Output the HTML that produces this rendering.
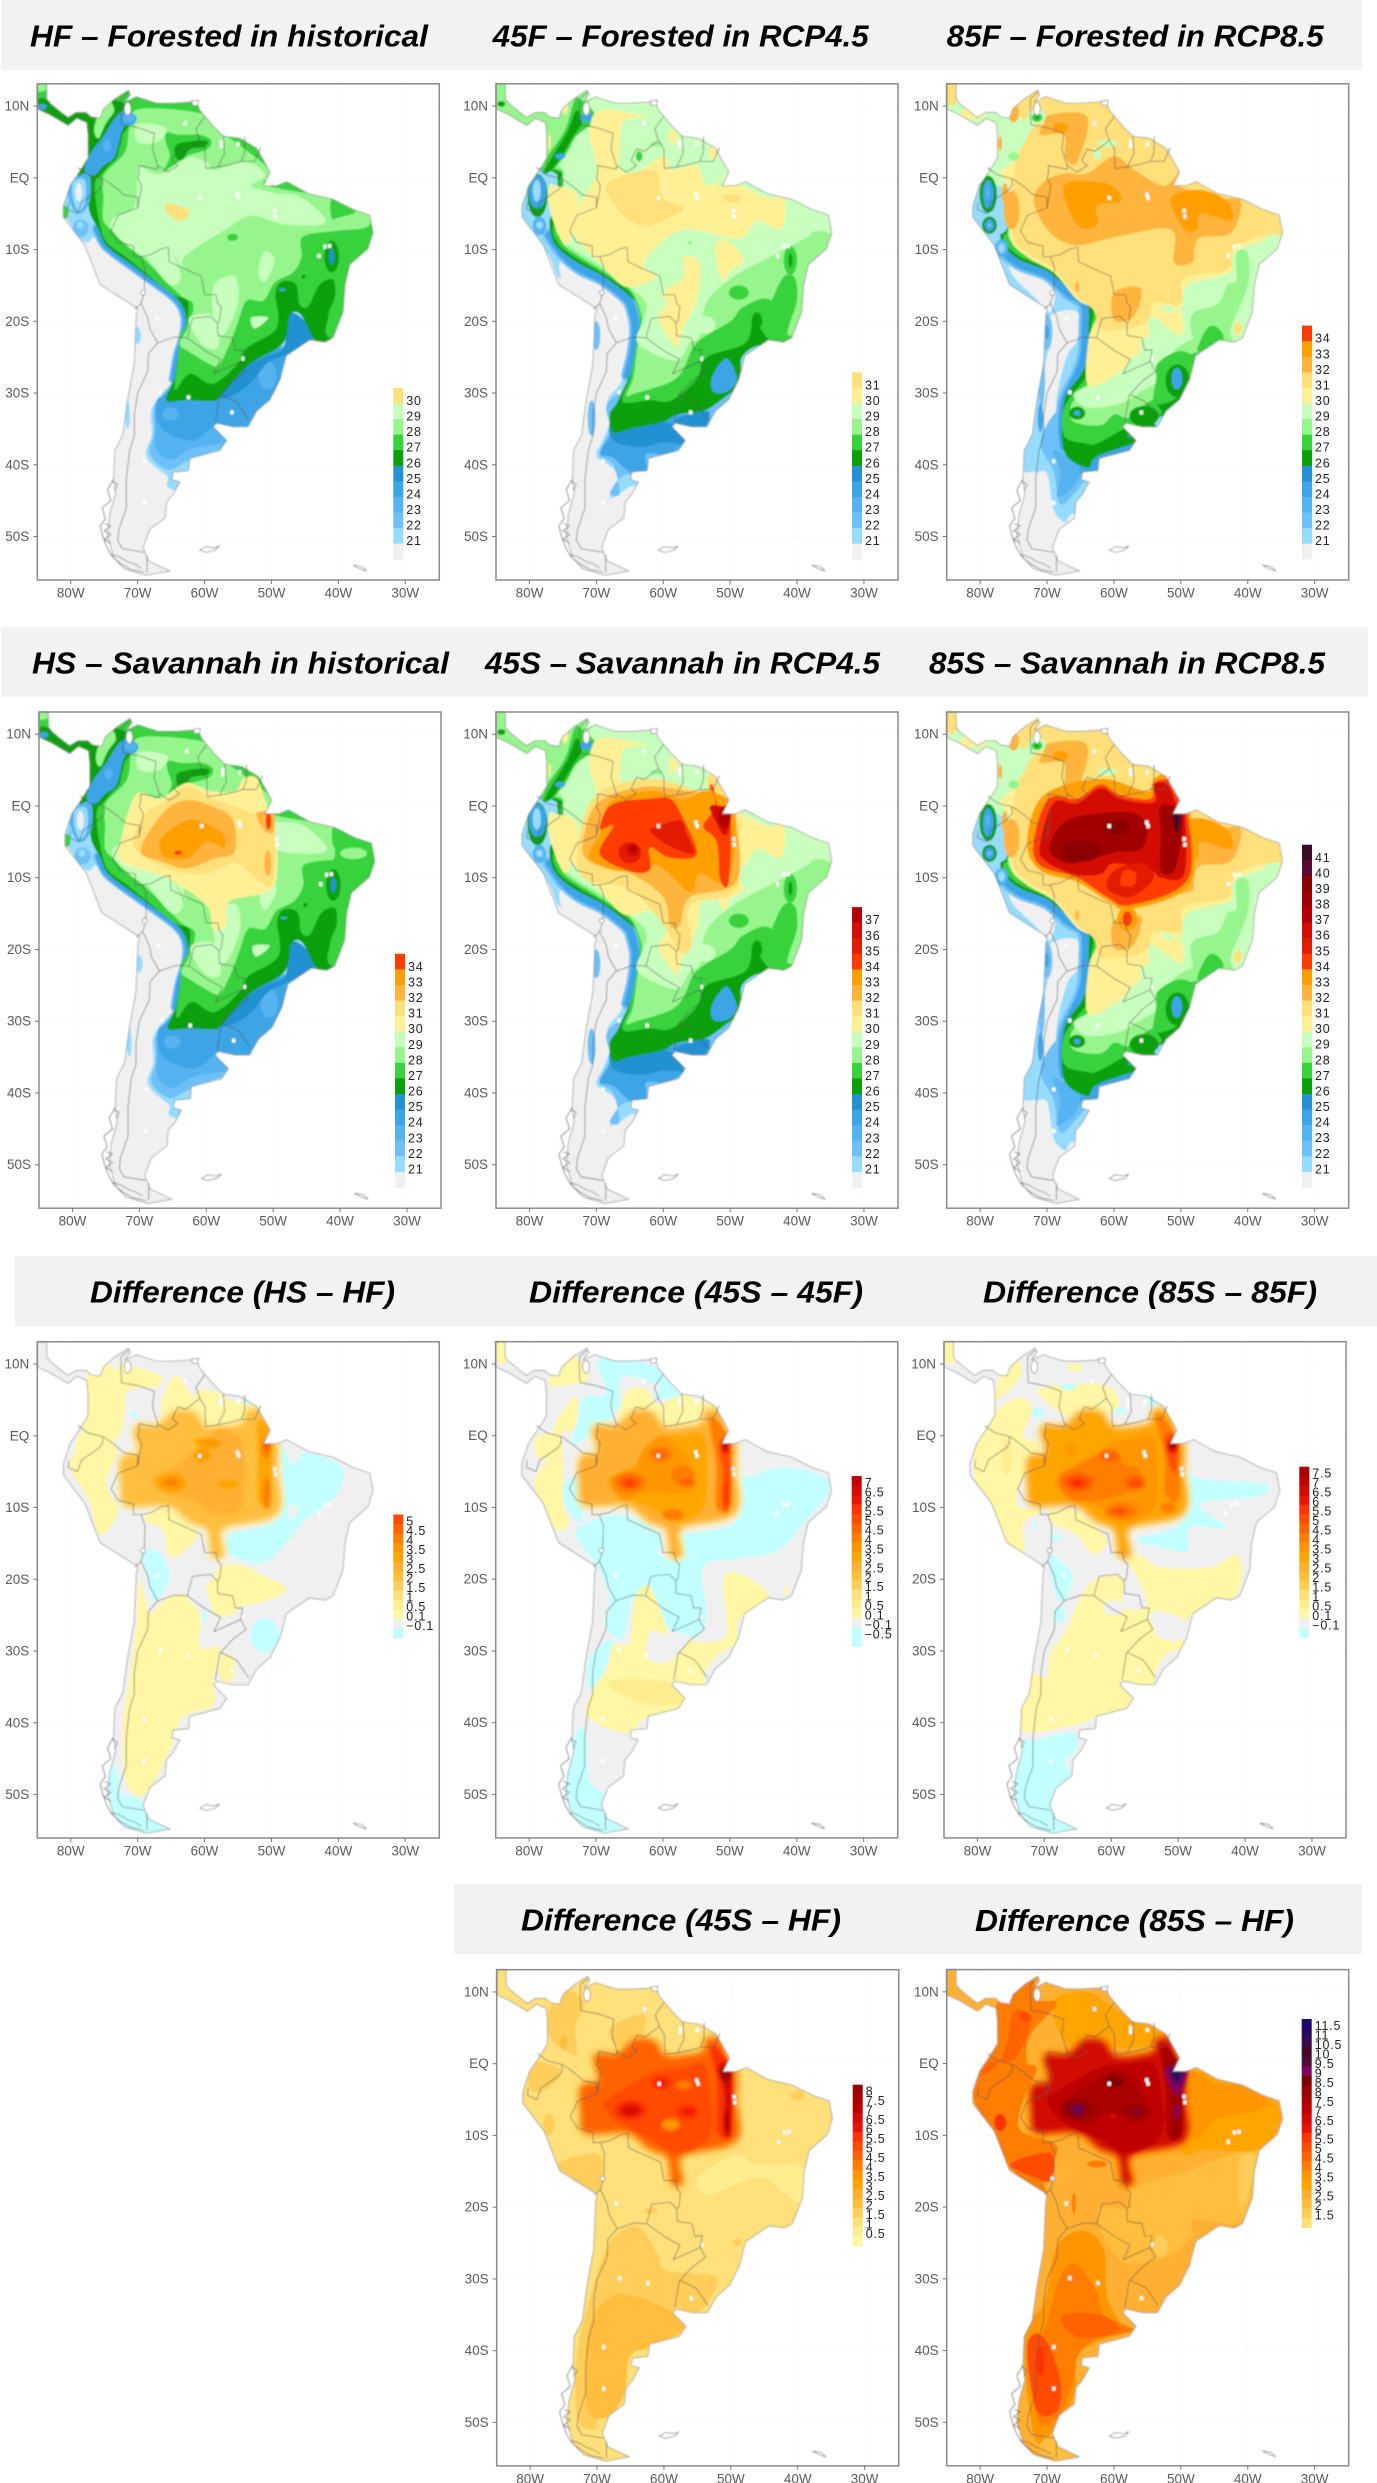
<!DOCTYPE html>
<html lang="en">
<head>
<meta charset="utf-8">
<title>South America surface temperature scenario maps</title>
<style>
html,body{margin:0;padding:0;background:#fff}
svg{display:block}
.tt{font-family:"Liberation Sans",sans-serif;font-weight:700;font-style:italic;font-size:31px;fill:#000}
.ax{font-family:"Liberation Sans",sans-serif;font-size:13.5px;fill:#5a5a5a}
.lg{font-family:"Liberation Sans",sans-serif;font-size:12.5px;fill:#222;letter-spacing:.8px}
</style>
</head>
<body>
<svg id="chart" xmlns="http://www.w3.org/2000/svg" width="1377" height="2483" viewBox="0 0 1377 2483">
<defs>
<filter id="soft" x="-5%" y="-5%" width="110%" height="110%"><feGaussianBlur stdDeviation="0.7"/></filter>
<filter id="softBlock" x="-15%" y="-15%" width="130%" height="130%"><feGaussianBlur stdDeviation="3"/></filter>
<filter id="softHot" x="-15%" y="-15%" width="130%" height="130%"><feGaussianBlur stdDeviation="1.6"/></filter>
<clipPath id="land"><path id="landPath" d=""/></clipPath>
</defs>
<rect x="1" y="0" width="1361" height="70" fill="#f2f2f2"/>
<rect x="1" y="627" width="1367" height="70" fill="#f2f2f2"/>
<rect x="15" y="1256" width="1362" height="71" fill="#f2f2f2"/>
<rect x="454" y="1884" width="908" height="70" fill="#f2f2f2"/>
<g id="panels"></g>
</svg>
<script>
// ---- axis ticks (lon degrees west, lat degrees signed) ----
const lonTicks=[80,70,60,50,40,30];
const lonLabels=['80W','70W','60W','50W','40W','30W'];
const latTicks=[10,0,-10,-20,-30,-40,-50];
const latLabels=['10N','EQ','10S','20S','30S','40S','50S'];
// ---- colour scales ----
const tempBins=[20,21,22,23,24,25,26,27,28,29,30,31,32,33,34,35,36,37,38,39,40,41];
const tempCols=['#f0f0f0','#96dcff','#6ec0f8','#55b4f0','#3ca5e6','#2391d2','#0aa00a','#37d23c','#96f58c','#c8ffbe','#fff096','#ffe07a','#ffb43c','#ffa000','#ff3c00','#e11e00','#d20f00','#b40000','#a00000','#8c0000','#5a0a32','#3c0a23'];
const diffBins=[-0.5,-0.1,0.1,0.5,1,1.5,2,2.5,3,3.5,4,4.5,5,5.5,6,6.5,7,7.5,8,8.5,9,9.5,10,10.5,11,11.5];
const diffCols=['#c3ffff','#f0f0f0','#fff6a6','#ffed90','#ffe07a','#ffcd5a','#ffbe3c','#ffb030','#ffa500','#ff9600','#ff7d00','#ff6400','#ff4b00','#ff3200','#e61400','#d20a00','#be0000','#aa0000','#960000','#7d0000','#800060','#500a3c','#460a28','#3c0a50','#28085a','#1e0a6e'];
// ---- geography ----
const coast=[85,13.1,83.6,13.1,83.6,11,83,10.3,81.3,9,80.4,8.4,79.2,9.1,77.7,9.1,77,8.5,75.6,8.3,75.1,9.6,73.4,11,71.4,12.2,71.1,11.6,71.9,10.6,71.3,10.8,70.2,11.3,67.2,10.4,64.7,10.4,61.2,10.6,60.7,9.4,58.7,7.2,57.2,5.8,54.7,5.5,52.2,4.1,50.2,0.8,51.2,-1.1,49.2,-1.1,47.7,-0.55,44.5,-2.2,40.8,-3,37.8,-4.4,35.3,-5.2,34.8,-7.7,35.6,-9.9,38.3,-12.1,39,-14.9,39.3,-18.7,40.8,-22.3,42,-22.9,44.3,-22.6,47.8,-24.8,48.7,-28.1,50.2,-30.9,52.2,-32.5,53.5,-34.7,55.7,-34.7,58.2,-34.2,58.7,-34.7,56.7,-36.6,57.7,-38,62.2,-39.1,62.4,-40.8,64.7,-41,64.9,-42.1,63.7,-42.4,64.7,-44.1,65.7,-45.2,65.9,-47.4,68.2,-49,69.2,-51.5,68.4,-53.4,65.2,-54.8,68.7,-55.4,72,-54.5,73.5,-53,74.5,-50,74.2,-47,73.3,-44,73.6,-42.1,73.4,-38,72.2,-35.8,71.5,-31,70.5,-25.9,70.2,-19.3,70,-18.2,75.6,-14.9,77.9,-9.4,81.1,-5.5,81.1,-3.9,80.1,-1.1,78.9,0.55,77.4,2.75,77.4,6,77.6,7.7,79.1,8.3,80.4,7.3,83.1,8.8,85,9.6];
const borders=[
[51.6,4.2,52.5,2.3,54.5,2.3,56,1.9,58,1.5,59.8,1.3,59.9,2.4,59.9,4,60.7,5.2,62.8,3.7,64,4,64.8,2.4,64,1.7,65.5,0.8,67,1.7,67,1.2,69.8,1.7,69.8,0.7,70,-0.1,69.4,-1.1,70,-4.2,72.9,-5.2,74,-7.4,72.9,-9,70.6,-9.5,70.6,-11,69.5,-11,68,-10.7,66.5,-9.9,65.4,-9.7,65.3,-11.7,63,-12.7,60.5,-13.7,60,-16.3,58.3,-16.3,58,-17.5,57.5,-18,57.8,-20,58.1,-20.2,58,-22,55.8,-22.3,55.4,-24,54.3,-24,54.6,-25.6,53.8,-27,55.7,-28.3,57.6,-30.2,56,-30.9,55.2,-31.3,53.4,-33.7],
[78.9,1.4,77.4,0.4,75.3,-0.1,75.2,-0.9,75.6,-1.6,78.4,-3.4,79,-5,80.4,-4.4,80.3,-3.4],
[75.2,-0.1,73.5,-1.2,72,-2.4,70,-2.7,70,-4.2],
[71.3,12,72.5,11,72.5,9,72.4,7.4,70,7,67.5,6.2,67.8,4,67,1.7],
[60.7,5.2,61.3,6.8,60,8.5],
[58,1.5,57,3.4,57.2,5.9],
[54.5,2.3,54,3.6,54,5.7],
[69.5,-11,68.9,-12.5,69,-16,69.5,-17.5,70.4,-18.3],
[69.5,-17.5,68.5,-19.5,68.2,-21,67,-23,68.4,-24.5,68.5,-27,70,-30,70.5,-33,70.5,-36,71.2,-38,71.7,-42,71.7,-46,72.8,-49,73,-50.5,72.3,-51.7,69,-52.2],
[68.6,-52.6,68.6,-55],
[67,-23,64.5,-22.2,62.6,-22.3,59.9,-24.1,57.6,-25.3,58.6,-27.3,54.6,-25.6],
[62.6,-22.3,61.8,-19.6,59.1,-19.3,58.1,-20.2],
[58.4,-34,58.2,-33,57.7,-30.2]];
const fjordLines=[[73.6,-42,74.5,-43.5,74,-45,75.3,-46,74.8,-47.5,75.6,-48.5,75.2,-50,74.6,-51.5,73.8,-52.8,72.5,-53.8,71,-54.6,69,-55],[74.9,-48.2,74,-48.5,75,-49.2,74,-49.7,75,-50.4,74,-50.9],[74,-52.5,72.8,-52.8,71.5,-53.5,70.5,-53.8,69.5,-54.4],[73.8,-42.3,73,-42.7,73.4,-43.6]];
const islands=[[60.7,-51.9,59.8,-51.4,58.5,-51.6,57.8,-51.3,58.4,-51.9,59.8,-52.2],[37.8,-54,36.5,-54.2,35.8,-54.8,36.8,-54.5],[61.9,10.7,60.9,10.8,61,10.1,61.8,10.1]];
const lakes=[[71.5,9.6,0.5,0.9],[69.2,-16,0.35,0.35]];
const missingCells=[60.7,-2.8,55.1,-2.3,54.9,-2.8,49.5,-4.6,49.4,-5.4,62.9,7.6,57.5,4.4,57.5,5,55,4.7,42,-9.6,41.3,-9.5,42.9,-10.9,55.9,-32.7,62.4,-30.6,66.6,-29.9,54.3,-25.2,69,-39.5,69,-45.3,67.1,-19.5];
// ---- filled contour regions: [bin, flat lonW,lat] polygon | [bin, flat, widthDeg] line | [bin, lonW,lat,rx,ry] ellipse ----
const beltHF=[76,-7.1,74.7,-9.4,71.7,-11.6,68.7,-13.6,64.2,-16.8,62.8,-19.3,63,-22,63.9,-24.8,64.5,-28];
const hfLayers=[
[21,[86,14,30,14,30,-46,62,-44,65.7,-41.5,68.7,-38.8,67.9,-35.8,68,-32.5,66.7,-30.3,64.9,-28.4,63.9,-24.8,63.3,-22,63.1,-19.3,64.2,-17.1,68.7,-13.9,71.7,-12.2,74.9,-10.2,76.4,-8.3,77.4,-9,78.6,-8.5,80,-6.6,82,-3,82,3,86,9]],
[22,[45,-36,57,-37.7,62.5,-39.5,65.5,-40.7,68.2,-38.5,67.5,-35.5,67.6,-32.5,66.3,-30.3,60,-25,45,-25]],
[23,[45,-36,57,-37,62,-37.8,65,-39.3,67.3,-37.7,67.2,-33,66,-30.4,60,-26,45,-24]],
[24,[45,-32,52,-33,54,-34.7,58.2,-34.6,61.7,-36.6,65.7,-35.5,67.2,-33.6,67.2,-31.4,66.2,-30.3,60,-26,45,-24]],
[23,65.1,-32.9,1.2,0.9],[23,50.6,-27.5,1.3,2],
[25,[57.7,-30.5,53.7,-26.4,50.7,-24.8,48.2,-23.7,47.5,-19.3,45.8,-19.3,43.5,-22,44.8,-23,48,-24.7,50.7,-25.9,53.2,-28.7,55.7,-30.3]],
[22,beltHF,1.7],[24,beltHF,1.1],
[26,[30,-23,42,-23,43.5,-22.7,45.7,-19,47.3,-19.3,48.3,-23.1,53.4,-26.1,57.7,-30.5,58.7,-31.1,62.7,-31,65.7,-31.1,65,-29,64.5,-28,63.9,-24.8,63,-22,62.8,-19.3,64.2,-16.8,68.7,-13.6,71.7,-11.6,74.7,-9.4,75.9,-7.1,77.1,-5,77.5,-2.7,77.9,0.55,85,4,86,9,86,14,30,14]],
[27,[30,14,30,-23,40.8,-22.5,41.5,-19.3,40.5,-16.5,40.8,-14.2,42.8,-14.9,44.5,-17.9,45.8,-17.6,46.3,-14.9,48.2,-14.4,49.4,-16,49.2,-20.9,53.7,-23.7,54.7,-25.6,58.7,-28.7,62.2,-27.3,64.4,-29.5,63.9,-24.8,63.7,-22,62.7,-20.4,62.5,-17.1,64.7,-16.3,68.9,-13.2,71.7,-11.1,74.6,-9,75.6,-6.6,76.3,-2.8,76.1,0,73.4,2.75,72.2,6.6,73.1,10.5,86,14]],
[28,[35,-5,35.8,-6.9,40.3,-7.4,45.3,-8.2,45.5,-11,46.8,-13.2,49.5,-14.6,51.2,-17.1,53.7,-17.1,55,-20.1,56.2,-23.1,57.7,-25.9,58.7,-26.2,62.4,-24.2,63.7,-23.1,62.4,-20.7,61.7,-17.6,63.7,-16.3,68.7,-11.6,71.4,-9.6,73.4,-7.7,75.1,-6,75.1,-2.8,75.1,0.3,71.9,3.6,71.2,7.2,69.7,9.6,60.7,9,58.2,6.9,50.2,1.1,50.8,-1,40.8,-2.8,35.8,-4.4]],
[27,[41,-3,38.5,-3.8,37.5,-4.8,39.8,-5.5,41,-5.6]],
[27,[65.7,6.3,63.7,6,60.7,6,59,5.2,59.7,3.9,62.7,3,64.2,1.4,66.2,0.55,65.2,3,65.8,5]],
[26,[64.4,4.4,62.7,5,59.7,5.2,60,4.3,62.2,4,63.2,2.5,64.2,2.75]],
[29,[69.2,1.4,66.7,0.55,62.7,2.75,59.7,2.2,58.7,1.1,53.7,2.2,50.9,0.3,53,-1.1,49.2,-2.2,46,-2.5,42.5,-5,42.5,-6.5,48,-6.5,53,-5.3,56.5,-7,63,-11,63,-13,65.5,-10,69,-11,73.5,-7.7,73.7,-5.7,70.5,-4,70,1.4]],
[29,[70,7.5,65.8,7,67,5,70,5]],
[29,[58.5,-14.8,55.5,-13.8,55,-17.5,57.3,-22,58.7,-19]],
[29,[62,-19.3,58.5,-19.3,57.9,-23.5,60,-23.5,62,-21]],
[29,[51,-10.3,49.5,-11.5,51,-14.5,52,-13]],[29,[53,-19.5,50.5,-19.5,52.5,-21]],
[29,[68.7,-10.5,65.8,-9.5,63.5,-13.5,65,-15,67.5,-12.5]],
[31,[65.7,-3.6,63.3,-4.1,62.2,-4.7,63.4,-6,65.5,-5]],
[27,55.8,-8.3,0.8,0.5],[26,45.2,-13.8,0.3,0.3],[26,41,-11,1.1,2.2],[25,41,-11,0.4,1.1],[24,48.4,-15.6,0.5,0.2],
[28,[76.5,7,75.5,9.5,74,10.5,73.5,9,74.3,7.5,75.9,5.5]],
[26,[74,11,71.5,10,70.9,8,71.5,7,72.5,5.5,73,3,74.5,1.5,76,0,77.9,-0.5,79,0.5,77.6,3,76,5,74.8,7.5,73.3,9.6]],
[24,[71.9,9.4,70.2,8.5,70.7,7.4,72.2,6.9,73.4,3,75.1,1.7,76.6,0.3,77.9,1.1,76.9,3.6,75.1,5.8,73.4,8.3]],
[23,71.3,8.3,0.9,0.6],[23,74.6,4.5,0.6,0.8],
[27,80.8,-4.8,0.5,0.9],
[23,[80.4,-1.1,78.1,0.55,77.1,0,77.2,-3.3,78.6,-5,79.9,-3.9]],
[21,[79.6,-0.6,77.9,-0.3,77.8,-3.2,78.8,-4.6,79.7,-2.9]],[20,78.8,-2,0.5,1.3],
[22,78.5,-7,1.2,1.2],[21,78.6,-6.6,0.5,0.5],
[27,84.5,11.6,1,1.7],[26,84.3,10.6,0.8,0.5],[24,84.3,9.9,0.7,0.4],[28,84.5,12.6,0.9,0.6],
[20,[75.6,-11.5,72.5,-13,69.7,-14.6,70.4,-18.2,73,-16.3,74.9,-14.9]],
[21,70,-22,0.5,1.2],[21,71.5,-33,0.35,2]
];
const hsExtra=[
[27,[41,-3,38,-4.5,35,-5,35,-9,38.5,-12,44,-12,45.5,-8.3,41,-7.5]],[28,38,-6.6,2,0.8],[26,41,-11,1.1,2.2],[25,41,-11,0.4,1.1],
[30,[72.8,-5,70.5,1.6,67,1,63,3.2,59.7,2.1,55.7,2.1,54.4,3.8,52.4,3.8,51,0,50,-1.7,49.8,-11,56.5,-13.3,57,-16.6,59,-17.1,60,-13.8,66,-10,72.6,-7.8]],
[31,[71,-5.4,69,-1,66.5,0.4,63,2.7,59,1,55.7,-0.1,53,-1,49.9,-1.5,50,-10.5,52,-10.5,55.5,-8,59.7,-9.4,62.9,-9.4,67,-8.3]],
[32,[69.8,-6.2,66.5,-1,63,0.8,58.7,-0.2,56,-2,55.8,-6.4,59,-7.4,62.9,-8.7,66.5,-7.8]],
[33,[67,-5.6,66.5,-4.2,63,-2,60.5,-2.3,57.5,-3.9,57.3,-5.8,60,-5,62.5,-7.2,66,-7.2]],
[32,[52.5,-1,50,-1,49.9,-3.5,51.2,-3.5]],[32,50.8,-8,0.5,1.8],
[34,64.2,-6.5,0.6,0.3],[34,50.7,-2,0.4,1.3]
];
const beltF45=[77,-8,75,-10.6,72.5,-12.6,69,-14.2,65.5,-16.8,64.6,-18.5,64.1,-21,64.5,-24.5,65.3,-27.5];
const f45Layers=[
[21,[86,14,30,14,30,-46,60,-46,64,-43,66.5,-44,68,-44.6,66.8,-42.5,67.5,-40.5,70,-38.8,69,-36.5,68,-34,68.3,-31,66.2,-28.3,64.8,-24,64.4,-21,64.4,-18,65.5,-17,69,-14.5,72.5,-13,75.5,-14,77,-11,80,-7,81.5,-4,81,1,86,9]],
[20,[75.4,-11.8,72.5,-12.7,69.7,-14.6,70.4,-18.2,73,-16.3,74.9,-14.9]],
[22,[45,-36,56,-37.5,62,-39.5,63,-41.3,66,-41.5,68,-44,66.5,-44,67.5,-40,69.5,-38.5,68,-35,68,-31,60,-28,45,-28]],
[24,[56,-36,59,-38.5,62.5,-38.5,62.5,-40.7,65,-41,67.5,-39,69.5,-38.5,68,-36,67.5,-35,60,-33,53,-33.5,53.5,-34.8,55,-35]],
[25,[58.5,-34.4,57,-36.9,60,-36.9,63.5,-37.5,67.5,-36.6,67.7,-33.6,64,-33.6]],
[25,[58,-33.6,53.3,-32.5,54,-34.7,57,-34.7]],
[22,beltF45,2],[24,beltF45,1.2],
[22,70.7,-33.5,0.6,2.5],[22,70,-22,0.6,2],
[26,[30,14,30,-24,43,-23,48,-24.7,48.5,-28.5,51,-30.7,54,-32.5,58,-33,60,-34,65,-35,67.5,-35.5,68,-33,67,-31.5,66,-29.5,65,-27.5,64,-24.5,63.3,-21,63.2,-18.5,65,-16.5,69,-13.7,72.5,-12,75,-10.4,76.5,-8.7,77,-6,76,-4,75.8,-0.5,77,1,86,3,86,14]],
[24,[51.5,-25.9,50.3,-25.3,49,-28.1,50.5,-29.8,52.5,-29.8,52.8,-28]],
[25,[58,-33.6,53.3,-32.5,54,-34.7,57,-34.7]],
[27,[30,14,30,-23,42,-23,44,-22.5,45,-19.5,46.5,-19,47.7,-23,53.5,-25,55,-28,58.7,-31,62,-31,66,-31.2,65,-28,64.3,-24.7,63.6,-21,63.7,-18.7,65,-16,69,-13.4,72.5,-11.5,75,-9.9,76,-8.7,76.5,-7,75.5,-4,75.5,-0.5,76,1,86,3,86,14]],
[24,[51.5,-25.9,50.3,-25.3,49,-28.1,50.5,-29.8,52.5,-29.8,52.8,-28]],
[28,[30,14,30,-22,41,-22,44,-17,48,-18,50,-20,55,-23,57,-26.7,59,-28.5,64,-30,65.5,-30.3,64.5,-28,64,-24.5,63.4,-21,63.3,-19,65,-15.5,69,-13,72.5,-11,74.5,-9.7,75.5,-8.2,76,-7,75,-2,75,0,76,1.3,86,3,86,14]],
[27,[44,-17.5,42,-13.8,40.3,-14,40,-17,41,-20,42,-22.7,44,-22.7,46,-20,45,-19]],
[29,[30,14,30,-6.6,37,-7.4,38.5,-8.3,44,-11,49.5,-13.8,53.5,-17.3,54.5,-22,56,-23,58,-25.5,62.5,-24,64,-22.5,63,-20,62.5,-17.7,64,-16,69,-12.5,72.5,-10.5,74.5,-9,75.5,-7,75,-2,75,1,76,3,73,8,71.5,10,70,12,69,14]],
[29,53.7,-20.5,1.5,1.2],[27,48.7,-16,1.5,1],[27,41,-11.5,1,2],[26,41,-11.5,0.3,1],[26,46,-20,0.8,1],
[27,[78,0.6,77.4,2.8,74.7,6.6,73.4,10.5,72.5,11,70,8.3,73,5.8,74.5,3.3,76.5,1.1]],
[26,[77.8,0.8,76.9,2.5,74.4,6.3,73,9.4,72.2,7.7,73.4,5.8,75,3.3,76.7,1.1]],
[24,71.4,8.4,1,0.6],[24,75.4,3,0.8,0.4],
[30,[69.5,9.4,62.7,8.5,66,7.7,66.5,2.8,66.8,1.6,64.5,0.55,60,3,58.7,1.1,55,1.7,53.5,-1.1,50.5,0.55,52,-1.1,48.5,-1.1,44.5,-2.8,42,-2.8,42,-6.6,43,-7.2,46,-6,48,-8.3,50.5,-8.3,57,-7.2,62,-10.5,62.7,-12.7,61,-13.8,65.5,-15.2,69.5,-11.8,73.5,-7.7,73,-4.4,70,0.5,71,6]],
[31,[68,-0.55,61.5,1.1,60,-2.8,57,-4.4,62,-6.6,65,-6,68,-2.8]],[31,49.7,-2.8,1.5,0.6],
[30,[77,-1.1,76,-1.1,73,-2.2,73.2,-6,74.7,-9.4,77,-4.4]],
[30,[57,-11,54.5,-12,55,-17,57,-20.9,58,-23.5,60.7,-19.8,59.5,-17.5,60,-16,57,-13.8]],
[30,[52,-9,50,-9,48,-11.5,50,-13,51,-14.5,52,-12]],
[30,74.7,9.9,0.5,1.1],[30,77,5,0.2,1],[30,58.5,5.7,0.7,1],[30,52.5,3.7,0.7,1.2],
[28,61,4.7,1,0.3],[27,63.6,3,0.5,0.7],[28,56,-9,0.3,0.3],
[26,78.8,-2.5,1.5,3],[24,78.8,-2,1.3,2.3],[21,78.9,-1.8,0.6,1.5],
[23,78.5,-6.7,1,1.3],[21,78.5,-6.6,0.5,0.5],
[28,84.3,11.5,1.2,2],[26,84.2,10.3,0.6,0.4]
];
const s45Extra=[
[31,[72.7,-5,70,1.6,62,3.8,54,2.1,53.5,4,51.3,3.8,50,0,49,-1.2,49,-11.6,56,-13.8,55.7,-19.3,57.5,-20.4,60,-16.6,65,-11.6,72,-10]],
[32,[72,-5,69.7,0.5,62.5,2.7,54,1.8,53,3,50.8,0,49.3,-1,49,-10.5,56,-12.7,57.5,-16.6,59,-16.6,60,-12.7,65,-9.4,71,-7.8]],
[33,[69.5,-3.9,68,0.5,62,2.1,57,1,53.5,2.1,49.3,-0.6,50.3,-10.5,54.5,-9.4,56,-12,61,-8.3,66.5,-9.1,71,-7.2]],
[34,[67.7,0.2,62,1,59,1,57.3,-1.2,55,-6.7,59,-7.2,62,-5.8,62,-8.9,65,-9.1,69.5,-6.7,67.5,-2.8,69.5,-3.2]],
[35,[60.7,-2.8,57.5,-2,56.5,-3.9,55.5,-6.6,59,-5.6,62,-3.5]],
[35,65,-6.5,1.7,1.5],[36,64.6,-6.2,1,0.9],[37,64.5,-6,0.5,0.5],
[34,[53,2.7,52,0,54,-2.8,52,-5,51.5,-10.2,50.2,-10.5,50,-0.6,52,-0.2,52.5,2.7]],
[36,[53,0,50,-0.6,50.3,-3.5,51,-4,52,-2.5]],[37,50.9,-1.5,0.9,1.5]
];
const beltF85=[76.3,-10.5,74,-12.1,70,-13.5,67,-16,64.5,-17.6,64.3,-20.9,64.5,-24.8,65.5,-27.5,67.3,-30.9,67.8,-34.7,67.5,-37.5];
const f85Layers=[
[21,[86,14,30,14,30,-40,60,-46,66,-46.8,67.3,-48,69,-46.3,70,-41.3,71.7,-41,74,-40,76,-30,76,-14,81,-8,82,-3,82,3,86,9]],
[20,[69.5,-19.2,65.5,-18.7,65.5,-22.6,67,-24.8,68.5,-30.3,68.8,-35.8,70,-36.9,70.5,-34.7,70.5,-27.5,69.5,-22.6]],
[20,[75.5,-12.1,72.5,-13.2,69,-14.9,69.5,-18.7,72,-16.5,75,-13.8]],
[22,[71,-37,69,-41,68,-45.5,65.5,-43.5,64,-41,67,-38,67,-33,69,-33]],
[22,70.8,-28,0.5,4],[24,71,-33.5,0.4,2],[22,70,-21.5,0.8,2.5],[24,70,-21.5,0.3,1],
[23,[69,-38,65,-40,66,-43,68.5,-44.5,68,-41]],
[24,[56.5,-35.5,55.5,-37,59,-38.8,62.5,-41,65,-41.2,64,-39]],
[22,beltF85,2],[24,beltF85,1.1],
[26,[30,14,30,-30,52,-33,53.5,-35.5,58,-36,56,-36.6,62.5,-38.8,64,-40.4,67.5,-38,67.4,-31,65,-27.5,63.9,-24.8,63.8,-20.9,64,-17.4,66.7,-15.5,70,-13,74,-11.5,76.3,-9.7,77,-8,76,-7,75.7,-3,76.4,0,86,3,86,14]],
[27,[30,14,30,-28,52,-30,53,-33,57,-34.5,58.5,-35,62.5,-37,64.3,-37,67.4,-36,67.4,-32,64,-27.5,63.5,-25,63.4,-21,63.2,-18,66,-15.3,70,-12.7,74,-11,76,-9.4,76.5,-8,75.3,-7,75.3,0,86,3,86,14]],
[28,[30,14,30,-24,44,-24,50,-25,52,-27,53,-30,57,-32.5,58,-33.5,60,-33,62,-34.5,66,-34,66.5,-32,65.5,-30.5,63,-28,63,-25,62.5,-21,62,-18,66,-14.5,70,-12,74,-10.2,75.5,-8.7,75.8,-7,74,-2,75,0,86,3,86,14]],
[29,[30,14,30,-22,46,-22,52,-25,53,-28,56,-29.8,58,-31,60,-31.7,64,-32,66,-30.2,63,-28,62.6,-23,62,-18,65,-14.5,70,-11.5,74,-9.7,75.5,-8,75,-2.5,85,3,86,14]],
[30,[30,14,30,-10,37,-8.8,42,-10.5,42.7,-13.2,49,-14.9,50,-18.2,53,-17.6,52,-18.7,50,-18.7,50,-22,54.5,-19.3,54.7,-22,56,-22.6,56,-24.2,57.5,-25.3,59,-27,63.8,-29,63.8,-22.6,62.5,-18.7,65.5,-17,69,-13.2,73,-11,75.5,-8.3,75.5,-1.7,77,0.6,74.8,2.8,72.8,6.6,75.5,10.5,78,10,86,14]],
[31,[30,14,30,-9,37,-8,42,-9.8,43,-12.8,49.5,-14,50,-17.5,54,-17.5,55,-20,58,-21,62,-21,63,-18.5,65.5,-16.5,69,-12.7,73,-10.5,75.2,-8,75.2,-2,74.5,2.8,72.8,6.6,75.5,10.5,74,14]],
[32,[72,-3.3,70.5,-0.6,67.5,0.6,64,0.6,60,3,57,1.1,52.5,-1.1,50,1.1,50.5,-1,44,-2.8,41,-3.3,42.5,-7.7,47,-8.3,48,-10,48.3,-11.8,51,-11.8,51.5,-7.2,60,-8.3,65.5,-9.4,69.5,-7.7]],
[33,[67.5,-1.1,62,-0.6,59.5,-1.7,59,-3.3,62.5,-3.9,62.5,-6.6,65.5,-6.6]],
[33,[51.5,-2.8,47,-1.7,43,-3.3,42.5,-6,47,-5,47.5,-7.2,49.5,-7.2]],
[32,[69.5,8.8,64,8.5,65.5,2.2,67.3,2.8,67.5,6,71,6,70.5,7.5]],[33,68,7,1.2,0.7],
[32,75,9,0.8,1.3],[32,77,4.8,0.3,1],[32,75.3,-4.5,1.2,2.7],[32,76.3,-2.2,0.5,1.5],
[32,[60,-16,56,-15.4,57,-19.3,60,-19.8]],[32,65.5,-15.2,0.3,0.7],
[29,61,4.8,1.5,0.5],[29,62.5,3.3,0.6,0.8],
[29,[77.5,1.5,75.5,2,72.5,6.5,71.5,8,73,8.3,75.5,5,77,3]],[28,75,3,0.8,0.6],
[29,71.5,8.6,1.3,1],[27,71.5,8.4,0.8,0.6],[26,71.5,8.4,0.3,0.2],
[29,36,-8.5,1.5,0.6],
[28,[48.5,-20.9,48,-18.7,44.5,-17.6,43,-14.9,41.7,-14.3,41.7,-10.5,40,-10.5,40,-14.9,42.5,-20.9,42.5,-23,47,-24.2]],
[27,[47.5,-23.7,46,-20.9,44.5,-20.9,43.7,-22.6,47,-24.2]],
[27,[53.5,-25.9,50.5,-24.2,48.3,-25,48.5,-28.6,51,-30.9,54,-31.4,53.7,-28.1]],
[26,50.5,-28.3,1.8,2.3],[24,50.6,-28,0.8,1.5],[31,41.5,-21,0.6,0.9],
[26,65.5,-32.8,1.2,0.9],[24,65.5,-32.8,0.5,0.4],[26,55.5,-33.2,2.2,1.4],
[26,78.8,-2.3,1.3,2.6],[24,78.8,-2.3,0.8,2],[23,78.9,-2,0.3,0.9],
[26,78.6,-6.6,1.1,1.2],[24,78.6,-6.6,0.7,0.8],[22,78.6,-6.6,0.3,0.3],
[23,76.8,-9.8,1,1.2],[21,76.8,-9.8,0.5,0.7],
[31,84.3,12,1.2,2],[29,84.5,9.5,1,0.6],[30,81,9,2,0.8]
];
const s85Extra=[
[33,[73,-5,70.5,1.5,62,3.8,55,2,54,3.8,51.5,4.4,49.6,0.3,48.6,-0.6,48.6,-10.8,57.5,-14.4,61,-13.2,65.5,-10.6,71,-9]],
[34,[72,-5,69.8,1,65.5,1,62,3,59,1.5,54.5,1,54,3.2,51.5,3.5,50,0,49,-0.8,49,-10.3,57.5,-13.8,61,-12.7,65.5,-10,71,-8.3]],
[36,[71,-5,69,0.5,65.5,0.4,62,2.5,59,1,54,0.5,54,3,52,3,50.5,0,49.4,-1,49.5,-9.5,53,-10,54.5,-9,60,-8,62,-9.5,66,-9.5,70.5,-7.5]],
[35,[60,-9,56,-8,54,-10,57.5,-12.7,61,-11.5]],[34,[58.5,-9,56.8,-9.3,57,-11,59,-11]],
[38,[69.5,-5,67,-2,62,-1,57,-1,55,-3,56,-6,60,-6.5,66,-8,69,-7]],
[39,65,-6.3,3,1.5],[39,59.5,-3,2,1],
[38,[53,0,50,-0.8,50,-5,51,-9,53,-9,53,-4]],
[40,50.6,-1.5,0.8,0.7],[41,50.6,-2.5,0.4,1.2],
[33,58,-15.7,1.5,1.7],[34,58,-15.7,0.7,1]
];
const block=[70.2,1,66.9,1.2,64.4,3.2,61.6,3,59.6,0.9,54.2,1.5,53.6,3.2,51.6,3.2,50.7,0.2,49.4,-0.8,49.4,-5,49.5,-10.7,57.4,-12.7,57.4,-16.4,58.7,-16.4,59.3,-13,62.2,-11.7,65.4,-9.5,71.5,-9.5,72.2,-7.3,72.2,-3.3,69.6,-2.5];
const blockWidths=[1.4,1.15,0.9,0.65,0.4,0.2];
const d1Base=[
[0.1,[77.1,9.5,75.1,10.3,72.9,9,72.6,10,66.7,8.4,67.2,6.8,71.4,6.3,71.9,3,72.9,-0.2,75.1,-0.8,78.6,1.4,77.7,7.1]],
[0.1,[78.6,0.3,75.4,-0.2,73.1,-1.8,74.6,-6.7,72.9,-10.5,74.9,-13.5,76.1,-13.2,77.4,-8.9,80.1,-4.5,79.4,-2.4]],
[0.1,[66.5,3,66.2,5.7,64.2,8.4,61.7,5.5,60.7,6.5,58,6,56,5,53,4.5,51,3,53,1,66,1]],
[0.1,[63.4,-22.1,60.7,-25,60.7,-29.5,57.7,-29.5,58.7,-33.8,58.7,-37.6,63.2,-39.2,64.9,-43.1,66.7,-46.8,69.2,-50.1,71.7,-48.4,72.2,-40.4,71.4,-34.9,70.2,-26.7,69.7,-20.2,68.2,-24.6,66,-23]],
[0.1,56.7,-32.4,1.3,2],
[0.1,[57.7,-18.3,54.7,-18,50.7,-19.7,47.7,-21.3,50.7,-23,54.7,-23.8,55.7,-24.9,58.2,-24.9,59.7,-21.3,58.7,-19.8]],
[0.1,[68.7,-11,65.5,-10,61.2,-13.2,62.2,-15.4,65.2,-17,66.2,-13.2,68.7,-12]],
[-0.5,[48.7,-1.3,46.8,-4,44.8,-2.4,39.3,-4.5,40.8,-8.9,44.8,-11.6,48.7,-15.9,51.7,-17.8,56.2,-16.5,56.2,-13.8,48.7,-11]],
[-0.1,46.8,-10.5,0.8,1],
[-0.5,[69.2,-16.5,67,-16,65.2,-19.2,66.2,-21.9,67.7,-23,68.7,-19.2]],
[-0.5,51,-27.8,2.2,2.4],[-0.5,60,-25.3,0.4,1],[-0.5,72.9,-6.7,0.3,1],[-0.5,53.2,4.9,0.9,0.6],[-0.5,70.6,3,0.6,0.5],
[-0.5,[73,-50,69,-51,66.5,-53,64,-55,70,-56,76,-54]],[-0.5,73.6,-48.5,0.8,2.5]
];
const d1Hot=[
[2.5,[68,-6,64,-4,60,-1,58,1,55,0,54,-4,54.5,-10,58,-11,62,-9,66,-8]],
[3,[61.5,-0.5,58.5,-0.5,57.5,-1.3,60,-2]],[3,[52,2,50,0,50.3,-9,52,-9,52,-4]],
[3,65,-6.5,2.3,1.4],[3,60.4,-2.8,1.4,1],[3,56.5,-6.8,1.8,0.7],
[3.5,65,-6.5,1.6,0.8],[3.5,60.4,-2.6,1,0.7],[3.5,59,-0.9,1.3,0.5],
[4,65,-6.5,1,0.5],[4,50.7,-8,0.6,2.2],[4,50.8,-1.8,0.7,1.4],[4.5,50.7,-1.2,0.6,0.8]
];
const d2Base=[
[-0.5,[69.7,10.6,63.9,10.4,60,9,57.5,5.4,61,5.4,60.7,7,66,8.2,66.5,3.7,67.5,3.7,68,2,73.4,-1.2,72.7,2,71.9,5.4,68.5,5.9]],
[-0.5,[48.5,-1.2,49,-11.7,57,-13.9,57,-17.2,60.5,-16.6,60.5,-13.9,66,-11,73,-13.3,69.7,-18.3,68,-22.7,68.5,-26.6,66,-28.2,64.5,-22.7,62,-22.1,59.5,-26.6,58,-27.4,54.5,-27.7,53.5,-24.4,54,-18.3,49.5,-17.2,43,-16.1,39,-12.2,35,-7.3,37.6,-5.1,43,-4.5,48,-5.6]],
[-0.5,[71.2,-34.3,71,-31,67.5,-28.5,70,-35.4]],
[-0.5,[75,-7.3,73,-5.6,72,-10,72.4,-12.2,74.7,-9.5]],
[-0.5,[71.5,-41.4,71,-48,68.5,-50.2,66,-55,72,-55,75.5,-51,75,-47,73,-41.4]],
[-0.5,59,6.5,1.5,1],
[0.1,84,12,1.2,2],
[0.1,[77,7,75.5,9.8,73,10.9,71.2,8.2,72.7,7.3]],
[0.1,[76.4,-0.1,75.9,2.1,73.2,5.4,72.7,3.7,73.4,1,74.9,0.4]],
[0.1,[78.9,-0.1,75.4,-0.1,75,-4,74.9,-9.5,74,-12,75.4,-13.3,76.9,-11.7,79.2,-6.7,77.4,-3.4,78.9,-3]],
[0.1,[66,4.8,65,6.5,62.5,6.5,61,4.4,59.5,4.8,57,5.7,54,4.8,51.5,4.3,50,1,56,0,66,1]],
[0.1,[64.2,-22.7,62,-21,59.5,-26.6,59.5,-27.7,62,-27.4,62.2,-31,59,-31.5,56,-28.5,54.5,-28.8,50.5,-27.7,51,-20,48,-19.4,44,-22.7,48.5,-25.5,49,-28.8,51.5,-30.4,53.6,-32.6,54,-34.8,57,-34.8,58.5,-34,56.7,-36.8,59.5,-39.2,62.5,-39.2,65.5,-41.4,71.2,-39.2,70.5,-35.4,68.4,-32.6,67.5,-29.3,65,-28.8]],
[0.5,[67.5,-34,59.5,-34.3,57,-37,60.9,-37.6,65,-36.5,67.5,-35.3]],
[0.1,41.6,-21.6,0.4,0.6]
];
const d2Hot=[
[3,[68,-6,64,-4,60,-0.5,57,0,54,0,53.5,-4,54,-10,58,-12,62,-10,67,-8]],
[3.5,[68,-6,64.5,-5,63,-2,60,0,57.5,-2,56,-4,55,-7,58,-8,63,-8,66,-9]],
[4,65,-6.5,2.4,1.5],[4,60.4,-2.6,1.7,1.1],[4,57,-5.5,1.8,1.4],[4,58.5,-11,1.6,0.8],
[4.5,65,-6.5,1.7,1],[4.5,60.4,-2.6,1,0.6],[4.5,56.5,-6.5,1.2,0.6],
[5,65,-6.6,1,0.6],[5.5,65,-6.6,0.6,0.3],
[4,[53,2.5,50.2,0,49.8,-4,50,-10,52,-10,52,-4]],[5,[51.5,-2,50,-0.5,50,-9.5,51,-10,51,-5]],[5.5,50.6,-8,0.5,1.8],[6,50.7,-1.5,0.8,1],[7,50.8,-1,0.5,0.6]
];
const d3Base=[
[0.1,84,12,1.2,2],
[0.1,[77.1,7,75.6,10.4,73.9,10.9,73.6,8.2,77.1,5]],
[0.1,65.5,9.5,1.2,0.5],
[0.1,[70.7,6.5,61.2,7.1,58.7,4.3,61,3,65.2,2.6,67.7,3.2]],
[0.1,[77.1,3.7,73.7,5.4,71.9,3.7,73.1,-0.1,70.7,-1.2,73.1,-5.6,74.1,-9.5,70.7,-10.6,73.1,-12.2,73.1,-16.6,75.6,-15,77.6,-11.7,80.4,-6.2,80.1,0.4,78.6,2.1]],
[0.1,[69.2,-10.6,65.2,-10.6,60.7,-14.4,62.7,-16.6,65.2,-13.9,68.7,-12.2]],
[0.1,[57.7,-17.2,55.7,-16.6,52.7,-18.3,45.3,-18.3,41.3,-16.6,40.5,-19.9,42.3,-23.2,46.8,-24.4,48.7,-25.7,49.2,-29.3,51.7,-30.4,53.2,-32.6,54.2,-35,58.7,-34.3,56.7,-37,58.7,-38.7,62.2,-39.2,65.2,-40.3,71.9,-41.4,73.6,-40.3,73.1,-36.5,71.7,-33.2,69.7,-33.7,69.1,-30.4,66.7,-27.1,64.7,-22.7,62.2,-19.9,58.2,-19.9,58.2,-23.8,54.7,-23.8,56,-20]],
[-0.1,[53.7,-24.5,49,-25.8,49,-28.4,53,-28]],[-0.1,59.7,-24,1.5,1],
[-0.5,[56.2,-14.4,49.3,-11.7,48.5,-1.2,47.7,-5.6,37.3,-6.7,37.8,-8.4,46.8,-9.5,42.8,-12.8,48.2,-12.8,48.7,-16.1,52.7,-15.5]],
[-0.1,45,-3.5,1.5,1],
[-0.5,[69.2,-16.6,66.7,-18.3,65.7,-19.9,67.2,-23.2,68.7,-21]],
[-0.5,67.7,-25,0.8,1.2],[-0.5,68.2,-14.2,0.8,0.5],[-0.5,71.4,-12.5,0.4,0.5],[-0.5,66.4,6.8,1.2,0.5],[-0.5,70.9,3.2,1,0.8],[-0.5,58.7,3.5,0.8,0.5],[-0.5,53.7,4.8,1,0.6],
[-0.5,[71.9,-42.5,65.7,-41.4,65.2,-43.6,67,-45.5,65.7,-47.4,68.7,-50.2,65.7,-55.2,72.6,-55.2,75.6,-51.4,75.1,-47,73.1,-42.5]],
[0.5,75.6,-3,0.7,2.5]
];
const d3Hot=[
[3.5,[68,-6,64,-4,60,-1,57,-0.5,54,0,53,-4,53.5,-10,58,-12,62,-10,67,-8]],
[4,[68,-6,65,-4,60,-2,58,-4,56,-4.5,55,-7,58,-8,62,-9,66,-9]],
[4,58.5,-10.5,2.5,1.2],[4.5,58.7,-10.5,1.6,0.6],[5,58.7,-10.5,0.9,0.3],[4,51.5,-10,1.2,0.7],
[4.5,65,-6.5,2.4,1.4],[4.5,60.3,-2.8,1.6,0.8],[4.5,56.5,-6.5,1.5,1],
[5,65,-6.5,1.7,0.9],[5,56.3,-6.7,1,0.6],[5.5,65,-6.6,1,0.5],[6,65,-6.6,0.5,0.2],
[3.5,66,-2,0.8,0.8],
[4,[53.3,3,50.3,0,49.8,-5,50,-9,52,-8,52,-3]],[5,[52,0,50,-0.5,50.3,-5,51.3,-4]],[6,50.9,-1.5,0.9,1],[7.5,50.8,-1.3,0.5,0.6]
];
const d4Base=[
[1,[86,14,30,14,30,-60,86,-60]],
[1.5,[77,7.8,75,10.6,72,8.5,73.3,5.1,73,1.3,75,1.9,76.5,2.9,77.5,5]],
[2,75,3,0.6,1],
[1.5,[68,5.1,63,6.8,63.5,3.5,67,2.4]],
[1.5,[80,0.2,75.5,-0.9,77.5,-3.6,80,-3.5]],
[1.5,[76,-14,73,-12.9,69.5,-12.9,70,-17.8,75,-15]],
[1.5,77.2,-8.5,0.8,1.5],
[1.5,[68,-24.8,64,-22.7,61,-26.5,60,-28.7,56,-29.2,52,-29.8,53,-32.5,55,-34.7,58.5,-34,56.5,-36.8,59.5,-38.5,65,-40.7,66,-46.6,69.5,-49.3,70.5,-51,73,-49.3,73,-40.5,71,-32.5]],
[2,[68,-32.5,64,-32.5,58.5,-34.7,57,-36.8,62,-39.5,65,-40.7,66,-46,68.5,-49.3,71.5,-47.8,71.2,-36.8]],
[0.5,[55,-16,49.5,-12.8,46,-14,39,-14.5,39.5,-19.4,45,-16,49,-16.7,53.5,-18.3]],
[1.5,40,-4.4,1,0.7],[1.5,49,-24.9,0.7,0.5],[1.5,62,-20.5,1,0.4]
];
const d4Hot=[
[5,[69,-5.5,65,-3,61,-1,57,-0.5,54,0,53,-4,53,-10,58,-12.5,62,-10.5,67,-8]],
[5.5,65,-6.5,2.5,1.5],[5.5,60.4,-2.6,1.5,1],[5.5,56.5,-6.7,1.7,1.1],
[6,65,-6.5,1.7,1],[6,60.4,-2.7,0.8,0.5],[6,56.3,-6.7,1,0.4],[6.5,65,-6.6,1,0.5],
[3.5,59,-8.5,1.3,0.8],[4,57,-3,1.2,0.6],
[5.5,[53,2.5,50.2,0,49.8,-5,50,-10,52,-9.5,52,-3]],[6.5,[52,-0.5,50,-0.6,50,-9.5,51,-9.5,51,-4]],[7.5,50.8,-1.5,0.9,1],[8,50.8,-1.2,0.5,0.5],[7.5,50.7,-8,0.4,1.5]
];
const d5Base=[
[2.5,[86,14,30,14,30,-60,86,-60]],
[2,[50,-15.2,38.5,-12,39,-18.4,41.5,-22.2,48,-21.7,48.5,-24.3,52.5,-27,59,-27.5,62.5,-20.6,57.5,-20,57.5,-17.4]],
[1.5,[41,-13,39,-13,39.5,-16.8,41,-20,41.5,-16.5]],[1.5,53,-25.4,1,1.5],
[3,[69,8.9,64,10,60,7.8,55.5,5.7,52.5,5.1,54,2.5,65,2.5,68,4]],
[3,[48.5,-1.3,35,-5.6,35,-8.3,38.5,-12,46,-12,50,-12]],
[3.5,[48.5,-1.3,44.5,-2.9,40,-2.9,37,-5,39,-6.6,44.5,-7.7,48,-10.4]],
[4,[77.5,8.4,74,11,72,11.6,71.5,8.9,68.5,8.4,72.5,4,73,0.3,71.5,-0.8,73.5,-5,74,-9.3,68.5,-11.5,70.5,-16.3,70,-18.4,76,-14.1,79.5,-7.7,81,-4.5,80,0.9,77.5,3]],
[4.5,[76,3,75,7.3,72.5,6.8,72.7,4.6,74,1.9,75.5,0.3,78.5,0.3,80,-1.8,77.5,-0.2]],
[5,[75.5,-14,69.5,-12.5,69.5,-16.3,72,-15.8]],[5.5,77,-8.2,0.9,1.2],[5,73.3,6.5,0.8,0.7],
[3.5,[64.5,-23.3,61.5,-25.9,61,-32.4,58.5,-36.7,57,-37.2,62.5,-38.8,65.5,-40.9,66,-46.3,69.5,-51.7,72,-51.7,73.5,-37.7,70.5,-33.4,68.5,-25.4]],
[4,[68,-29.7,65.5,-28,62.5,-32,61.5,-35,57,-37.2,62.5,-38.3,65.5,-40.9,66,-44,68.5,-49.5,71.5,-49.5,72,-41.5,70,-36]],
[4.5,[67.5,-35,62,-35,59,-37.2,64,-38.3,67,-37.2]],
[5,[72,-37.7,70,-38.8,68,-44.2,68.5,-48.4,71.5,-48.4,73,-40.4]],
[5.5,71,-41.5,0.6,2],[2,68,-53.5,3,2],
[4,66,-19.5,0.3,1.5],[4,62.5,-14,1.5,0.5]
];
const d5Hot=[
[7,[70,-5,66,-2.5,62,-0.5,57,0,54,0,53,-4,53,-10,58,-12.5,62,-10.5,67,-8.5]],
[6.5,62,-6.5,1,0.8],[6,60,-7,0.6,0.5],
[7.5,[68,-6,64,-3,60,-1,57,-2,56,-4,54.5,-7,57,-8,61,-7,64,-8.5]],
[8,65.5,-6.4,2.5,1.5],[8,57,-6.7,1.8,1],[8.5,65.5,-6.4,1.3,0.8],[8.5,60,-2.5,1.4,0.7],
[9,65.5,-6.4,0.9,0.6],[10.5,65.5,-6.4,0.6,0.3],[9,56.5,-6.7,0.4,0.15],
[7.5,[53,2.5,50.2,0,49.8,-6,50,-10,52,-10,52.3,-3]],[8,[52.5,0,50,-0.5,50,-9,51,-10,51,-4]],
[9,[52.3,-0.8,49,-0.8,50.5,-4.4]],[11,[51.5,-0.8,49.7,-0.8,50.6,-3]],[9,50.7,-6.7,0.3,1]
];
const hfLegendBins=[31,29,28,27,26,25,24,23,22,21,20];
// ---- legends (labels top to bottom) ----
const labelsHF=[30,29,28,27,26,25,24,23,22,21];
const labels45F=[31,30,29,28,27,26,25,24,23,22,21];
const labels34=[34,33,32,31,30,29,28,27,26,25,24,23,22,21];
const labels37=[37,36,35,34,33,32,31,30,29,28,27,26,25,24,23,22,21];
const labels41=[41,40,39,38,37,36,35,34,33,32,31,30,29,28,27,26,25,24,23,22,21];
const labelsD1=[5,4.5,4,3.5,3,2.5,2,1.5,1,0.5,0.1,-0.1];
const labelsD2=[7,6.5,6,5.5,5,4.5,4,3.5,3,2.5,2,1.5,1,0.5,0.1,-0.1,-0.5];
const labelsD3=[7.5,7,6.5,6,5.5,5,4.5,4,3.5,3,2.5,2,1.5,1,0.5,0.1,-0.1];
const labelsD4=[8,7.5,7,6.5,6,5.5,5,4.5,4,3.5,3,2.5,2,1.5,1,0.5];
const labelsD5=[11.5,11,10.5,10,9.5,9,8.5,8,7.5,7,6.5,6,5.5,5,4.5,4,3.5,3,2.5,2,1.5];

const SX=6.69,SY=7.175,W=402,H=496.2;
const NS='http://www.w3.org/2000/svg';
const X=lon=>(85-lon)*SX;
const Y=lat=>(13.1-lat)*SY;
function xy(a){const p=[];for(let i=0;i<a.length;i+=2)p.push([X(a[i]),Y(a[i+1])]);return p;}
function straight(a,closed){const p=xy(a);return 'M'+p.map(q=>q[0].toFixed(1)+' '+q[1].toFixed(1)).join('L')+(closed?'Z':'');}
function smooth(a,closed){
  const p=xy(a),n=p.length;let d='M'+p[0][0].toFixed(1)+' '+p[0][1].toFixed(1);
  const get=i=>closed?p[(i+n)%n]:p[Math.max(0,Math.min(n-1,i))];
  const last=closed?n:n-1;
  for(let i=0;i<last;i++){
    const a0=get(i-1),b=get(i),c=get(i+1),e=get(i+2);
    d+='C'+(b[0]+(c[0]-a0[0])/6).toFixed(1)+' '+(b[1]+(c[1]-a0[1])/6).toFixed(1)+' '+(c[0]-(e[0]-b[0])/6).toFixed(1)+' '+(c[1]-(e[1]-b[1])/6).toFixed(1)+' '+c[0].toFixed(1)+' '+c[1].toFixed(1);
  }
  return d+(closed?'Z':'');
}
function tempColor(v){return tempCols[tempBins.indexOf(v)];}
function diffColor(v){return diffCols[diffBins.indexOf(v)];}
function node(parent,tag,attrs){const e=document.createElementNS(NS,tag);for(const k in attrs)e.setAttribute(k,attrs[k]);parent.appendChild(e);return e;}

function drawLayer(g,l,color){
  const c=color(l[0]);let e;
  if(l.length===5){
    e=node(g,'ellipse',{cx:X(l[1]),cy:Y(l[2]),rx:l[3]*SX,ry:l[4]*SY,fill:c});
  }else if(l.length===3){
    e=node(g,'path',{d:smooth(l[1],false),fill:'none',stroke:c,'stroke-width':l[2]*SX,'stroke-linecap':'round','stroke-linejoin':'round'});
  }else if(l.length===4){
    e=node(g,'path',{d:smooth(l[1],true),fill:c,stroke:c,'stroke-width':l[2]*SX,'stroke-linejoin':'round'});
  }else{
    e=node(g,'path',{d:smooth(l[1],true),fill:c});
  }
  
  
}
function blockLayers(bins){return bins.map((b,i)=>[b,block,blockWidths[i]*1.0,'halo']);}

document.getElementById('landPath').setAttribute('d',straight(coast,true));

const panels=[
{name:'hf',title:'HF – Forested in historical',tx:30,tw:398,ty:46.7,fx:37.3,fy:83.8,layers:hfLayers,base:20,color:tempColor,labels:labelsHF,legendBins:hfLegendBins,seg:15.58,top:H-20.7-171.4,lx:356},
{name:'45f',title:'45F – Forested in RCP4.5',tx:492.7,tw:376,ty:46.7,fx:496,fy:83.8,layers:f45Layers,base:20,color:tempColor,labels:labels45F,seg:15.58,top:H-20.7-187,lx:356},
{name:'85f',title:'85F – Forested in RCP8.5',tx:946.7,tw:377,ty:46.7,fx:946.7,fy:83.8,layers:f85Layers,base:20,color:tempColor,labels:labels34,seg:15.58,top:H-20.7-233.7,lx:355.3},
{name:'hs',title:'HS – Savannah in historical',tx:32,tw:417,ty:673.4,fx:39,fy:712,layers:hfLayers.concat(hsExtra),base:20,color:tempColor,labels:labels34,seg:15.58,top:H-20.7-233.7,lx:356},
{name:'45s',title:'45S – Savannah in RCP4.5',tx:485,tw:395,ty:673.4,fx:496,fy:712,layers:f45Layers.concat(s45Extra),base:20,color:tempColor,labels:labels37,seg:15.58,top:H-20.7-280.4,lx:356},
{name:'85s',title:'85S – Savannah in RCP8.5',tx:929,tw:396,ty:673.4,fx:946.7,fy:712,layers:f85Layers.concat(s85Extra),base:20,color:tempColor,labels:labels41,seg:15.58,top:H-20.7-342.8,lx:355.3},
{name:'diff-hs-hf',title:'Difference (HS – HF)',tx:90,tw:305,ty:1302.5,fx:37.3,fy:1341.8,layers:d1Base,halo:[0.1,0.5,1,1.5,1.5,2],hot:d1Hot,base:-0.1,color:diffColor,labels:labelsD1,seg:9.48,top:172.7,lx:356,diff:true},
{name:'diff-45s-45f',title:'Difference (45S – 45F)',tx:529,tw:334,ty:1302.5,fx:495.7,fy:1341.7,layers:d2Base,halo:[0.1,0.5,1,1.5,2,2.5],hot:d2Hot,base:-0.1,color:diffColor,labels:labelsD2,seg:9.48,top:134.3,lx:356,diff:true},
{name:'diff-85s-85f',title:'Difference (85S – 85F)',tx:983,tw:334,ty:1302.5,fx:944,fy:1341.7,layers:d3Base,halo:[0.5,1,1.5,2,2.5,3],hot:d3Hot,base:-0.1,color:diffColor,labels:labelsD3,seg:9.48,top:125,lx:355.3,diff:true},
{name:'diff-45s-hf',title:'Difference (45S – HF)',tx:521,tw:320,ty:1930.6,fx:496.7,fy:1969.7,layers:d4Base,halo:[1.5,2,2.5,3,3.5,4.5],hot:d4Hot,base:1,color:diffColor,labels:labelsD4,seg:9.48,top:115,lx:356,diff:true},
{name:'diff-85s-hf',title:'Difference (85S – HF)',tx:975,tw:319,ty:1931,fx:946.7,fy:1969.6,layers:d5Base,halo:[3,3.5,4,5,5.5,6.5],hot:d5Hot,base:2.5,color:diffColor,labels:labelsD5,seg:9.48,top:49.4,lx:355,diff:true}
];

const root=document.getElementById('panels');
panels.forEach(function(p){
  const title=node(root,'text',{x:p.tx,y:p.ty,textLength:p.tw,lengthAdjust:'spacingAndGlyphs',class:'tt'});
  
  
  title.textContent=p.title;

  const g=node(root,'g',{transform:'translate('+p.fx+' '+p.fy+')'});
  
  

  const bg=node(g,'rect',{x:0,y:0,width:W,height:H,fill:'#fff'});
  
  

  lonTicks.forEach(function(v){
    const gl=node(g,'line',{x1:X(v),x2:X(v),y1:0,y2:H,stroke:'#ececec','stroke-width':0.7,'stroke-dasharray':'1 3'});
    
    
  });
  latTicks.forEach(function(v){
    const gl=node(g,'line',{x1:0,x2:W,y1:Y(v),y2:Y(v),stroke:'#ececec','stroke-width':0.7,'stroke-dasharray':'1 3'});
    
    
  });

  const soft=node(g,'g',{filter:'url(#soft)'});
  
  
  const clip=node(soft,'g',{'clip-path':'url(#land)'});
  
  
  const base=node(clip,'rect',{x:0,y:0,width:W,height:H,fill:p.color(p.base)});
  
  

  p.layers.forEach(function(l){drawLayer(clip,l,p.color);});
  if(p.halo){
    const bg2=node(clip,'g',{filter:'url(#softBlock)'});
    
    
    blockLayers(p.halo).forEach(function(l){drawLayer(bg2,l,p.color);});
    const inner=p.halo[p.halo.length-1];
    drawLayer(bg2,[inner,block],p.color);
    const hg=node(clip,'g',{filter:'url(#softHot)'});
    
    
    p.hot.forEach(function(l){drawLayer(hg,l,p.color);});
  }

  for(let i=0;i<missingCells.length;i+=2){
    const d=node(clip,'rect',{x:X(missingCells[i])-1.7,y:Y(missingCells[i+1])-2,width:3.4,height:4,fill:'#fff'});
    
    
  }

  const outline=node(soft,'path',{d:straight(coast,true),fill:'none',stroke:'#8c8c8c','stroke-width':0.7});
  
  
  borders.forEach(function(b){
    const e=node(soft,'path',{d:straight(b,false),fill:'none',stroke:'#4a4a4a','stroke-width':0.7,opacity:0.85});
    
    
  });
  fjordLines.forEach(function(b){
    const e=node(soft,'path',{d:straight(b,false),fill:'none',stroke:'#444','stroke-width':0.55});
    
    
  });
  islands.forEach(function(b){
    const e=node(soft,'path',{d:straight(b,true),fill:'#fff',stroke:'#777','stroke-width':0.7});
    
    
  });
  lakes.forEach(function(b){
    const e=node(soft,'ellipse',{cx:X(b[0]),cy:Y(b[1]),rx:b[2]*SX,ry:b[3]*SY,fill:'#fff',stroke:'#777','stroke-width':0.7});
    
    
  });

  const frame=node(g,'rect',{x:0,y:0,width:W,height:H,fill:'none',stroke:'#8a8a8a','stroke-width':1.5});
  
  

  lonTicks.forEach(function(v,i){
    const t=node(g,'line',{x1:X(v),x2:X(v),y1:H,y2:H+4,stroke:'#777','stroke-width':1});
    
    
    const lab=node(g,'text',{x:X(v),y:H+17.5,'text-anchor':'middle',class:'ax'});
    
    
    lab.textContent=lonLabels[i];
  });
  latTicks.forEach(function(v,i){
    const t=node(g,'line',{x1:-4,x2:0,y1:Y(v),y2:Y(v),stroke:'#777','stroke-width':1});
    
    
    const lab=node(g,'text',{x:-8,y:Y(v)+4.5,'text-anchor':'end',class:'ax'});
    
    
    lab.textContent=latLabels[i];
  });

  // colour bar
  const leg=node(g,'g',{});
  
  
  const n=p.labels.length;
  for(let i=0;i<=n;i++){
    let col;
    if(p.legendBins) col=tempColor(p.legendBins[i]);
    else if(i<n) col=p.color(p.labels[i]);
    else if(p.diff){
      const idx=diffBins.indexOf(p.labels[n-1]);
      col=idx>0?diffCols[idx-1]:diffCols[0];
    } else col=tempColor(20);
    const s=node(leg,'rect',{x:p.lx,y:p.top+i*p.seg,width:10,height:p.seg+0.4,fill:col});
    
    
  }
  p.labels.forEach(function(v,i){
    const lab=node(leg,'text',{x:p.lx+13,y:p.top+(i+1)*p.seg+1.5,class:'lg'});
    
    
    lab.textContent=String(v).replace('-','−');
  });
});
</script>
</body>
</html>
